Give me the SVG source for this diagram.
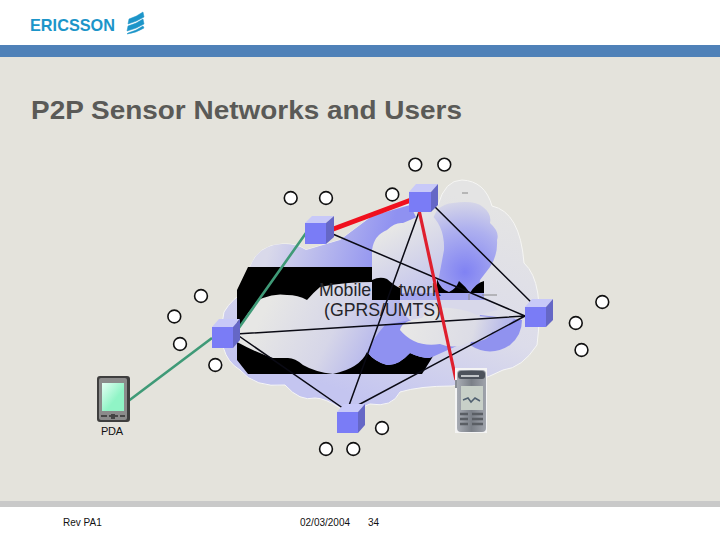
<svg xmlns="http://www.w3.org/2000/svg" width="720" height="540" viewBox="0 0 720 540">
<style>
.c{fill:#fff;stroke:#111;stroke-width:1.6}
.l{stroke:#0a0a14;stroke-width:1.5;fill:none}
.f{fill:#7a7cf6}.t{fill:#c8c9f8}.s{fill:#6567c6}
.a{font-family:"Liberation Sans",Arial,sans-serif}
</style>
<defs>
<linearGradient id="g0" gradientUnits="userSpaceOnUse" x1="470" y1="200" x2="400" y2="410"><stop offset="0" stop-color="#e4e4e4"/><stop offset=".55" stop-color="#dcdcea"/><stop offset="1" stop-color="#c4c5f0"/></linearGradient>
<linearGradient id="g2" gradientUnits="userSpaceOnUse" x1="270" y1="245" x2="380" y2="275"><stop offset="0" stop-color="#d9d9ea"/><stop offset="1" stop-color="#8f91f1"/></linearGradient>
<radialGradient id="g3" gradientUnits="userSpaceOnUse" cx="465" cy="272" r="78"><stop offset="0" stop-color="#8082f3"/><stop offset=".55" stop-color="#aeb0ef"/><stop offset="1" stop-color="#e0e0e6"/></radialGradient>
<linearGradient id="g4" gradientUnits="userSpaceOnUse" x1="270" y1="300" x2="395" y2="365"><stop offset="0" stop-color="#e7e7e5"/><stop offset=".5" stop-color="#d6d6e8"/><stop offset="1" stop-color="#a5a7ef"/></linearGradient>
<linearGradient id="g5" gradientUnits="userSpaceOnUse" x1="405" y1="320" x2="500" y2="345"><stop offset="0" stop-color="#e8e8e6"/><stop offset=".7" stop-color="#dcdce6"/><stop offset="1" stop-color="#b8baea"/></linearGradient>
<linearGradient id="g8" gradientUnits="userSpaceOnUse" x1="385" y1="230" x2="420" y2="290"><stop offset="0" stop-color="#e8e8e6"/><stop offset="1" stop-color="#c6c7ec"/></linearGradient>
<linearGradient id="g6" x1="0" y1="0" x2="1" y2="1"><stop offset="0" stop-color="#e4fff4"/><stop offset=".6" stop-color="#90f4c6"/></linearGradient>
<linearGradient id="g7" x1="0" y1="0" x2="1" y2="0"><stop offset="0" stop-color="#a8acb4"/><stop offset=".5" stop-color="#7b8088"/><stop offset="1" stop-color="#a0a4ac"/></linearGradient>
</defs>
<rect width="720" height="540" fill="#fff"/>
<rect y="45" width="720" height="12" fill="#4f81b8"/>
<rect y="57" width="720" height="444" fill="#e4e3dc"/>
<rect y="501" width="720" height="6" fill="#c9c9c9"/>
<g id="logo">
<text class="a" x="30" y="31" font-size="17" font-weight="bold" fill="#1c95c9" textLength="85" lengthAdjust="spacingAndGlyphs">ERICSSON</text>
<path d="M129 19Q136 17 143 12L144 17Q136 22 128 24ZM128 26Q136 24 143 19L144 24Q136 29 127 31ZM128 33Q136 31 143 26L144 28Q136 33 127 34Z" fill="#1c95c9" stroke="#1c95c9" stroke-width=".5"/>
</g>
<text class="a" x="31" y="119" font-size="26" font-weight="bold" fill="#5a5a57" textLength="431" lengthAdjust="spacingAndGlyphs">P2P Sensor Networks and Users</text>
<g id="cloud">
<path d="M224 312Q232 298 248 290L250 267Q258 245 282 244Q296 243 306 250L340 240L372 216L400 205L438 205Q445 180 462 180Q485 181 492 206Q520 212 524 263Q545 282 537 345Q522 368 503 370Q475 384 452 386Q420 386 400 392Q392 408 370 404Q355 412 340 408Q325 398 315 398Q300 402 285 385Q255 388 240 370Q215 355 224 312Z" fill="url(#g0)" stroke="#f6f6f4" stroke-width="1"/>
<path d="M250 267Q258 245 282 244Q296 243 306 250L340 240L372 216L410 205L420 225L385 285L372 290L250 290Z" fill="url(#g2)"/>
<path d="M437 210Q445 203 453 203Q475 200 483 207Q492 214 490 223Q500 232 497 240Q498 255 490 267L480 280L478 294H438L425 280Q420 240 437 210Z" fill="url(#g3)"/>
<path d="M372 290V250Q374 235 387 230Q395 222 403 223Q415 218 428 212Q445 225 444 250L436 293H400L400 300H372Z" fill="url(#g8)"/>
<path d="M248 267H372V300H400V345H440L422 374H248L237 360V290Z" fill="#000"/>
<path d="M237 335Q243 318 253 307Q257 300 263 298Q275 293 287 295Q298 295 307 300Q314 292 320 287Q345 282 372 282V300H400L430 345L430 358Q420 358 410 353Q398 366 387 365Q375 362 367 352Q360 368 333 374Q315 372 303 365Q295 358 288 358H273Q255 352 237 342Z" fill="url(#g4)"/>
<path d="M367 352Q372 340 385 325L420 318L470 340L430 358Q420 358 410 353Q398 366 387 365Q375 362 367 352Z" fill="#8f91f1"/>
<path d="M400 293H484V300H400Z" fill="#a3a5ee"/>
<path d="M400 300H490L498 310L450 322L410 320L400 310Z" fill="#d8d8ea"/>
<path d="M470 345Q490 358 510 345Q522 335 522 320L480 315Z" fill="#9092ef"/>
<path d="M400 330Q402 320 422 318Q430 306 450 308Q470 310 478 316Q500 318 515 318Q505 330 492 332Q488 342 470 342Q455 350 440 344Q415 348 400 330Z" fill="url(#g5)"/>
<text class="a" text-anchor="middle" font-size="17.7" fill="#242428"><tspan x="380" y="296">Mobile Network</tspan><tspan x="382.5" y="316">(GPRS/UMTS)</tspan></text>
<path d="M372 280Q380 276 387 279Q395 286 400 288V300H372Z" fill="#000"/>
<path d="M437 279V293H484V281Q476 283 470 293Q465 286 459 281Q456 289 449 292Q441 290 437 279Z" fill="#000"/>
<path d="M462 193H468M469 294V300M482 295H497" stroke="#888" stroke-width="1" fill="none"/>
</g>
<g id="connectors">
<path class="l" d="M328 232L525 316M419 212L347 411M430 202L536 307M236 334L525 316M236 334L347 411M525 316L347 411"/>
<path d="M328 231L411 200" stroke="#f0101e" stroke-width="5" fill="none"/>
<path d="M419 210L456 380" stroke="#df1f2e" stroke-width="3.2" fill="none"/>
<path d="M306 233L236 332M212 338L127 402" stroke="#3f9a77" stroke-width="2.6" fill="none"/>
</g>
<g id="node-1"><path class="t" d="M305 223L312 216H334L326 223Z"/><path class="s" d="M326 223L334 216V237L326 244Z"/><rect class="f" x="305" y="223" width="21" height="21"/></g>
<g id="node-2"><path class="t" d="M409 192L416 184H438L431 192Z"/><path class="s" d="M431 192L438 184V205L431 212Z"/><rect class="f" x="409" y="192" width="22" height="20"/></g>
<g id="node-3"><path class="t" d="M525 307L532 299H553L546 307Z"/><path class="s" d="M546 307L553 299V320L546 327Z"/><rect class="f" x="525" y="307" width="21" height="20"/></g>
<g id="node-4"><path class="t" d="M212 327L219 319H240L233 327Z"/><path class="s" d="M233 327L240 319V340L233 348Z"/><rect class="f" x="212" y="327" width="21" height="21"/></g>
<g id="node-5"><path class="t" d="M337 412L344 404H365L358 412Z"/><path class="s" d="M358 412L365 404V425L358 433Z"/><rect class="f" x="337" y="412" width="21" height="21"/></g>
<g id="sensors">
<circle class="c" cx="290.7" cy="198" r="6.4"/><circle class="c" cx="326" cy="198" r="6.4"/><circle class="c" cx="392.3" cy="194.5" r="6.4"/><circle class="c" cx="415.3" cy="164.6" r="6.4"/><circle class="c" cx="444.3" cy="164.6" r="6.4"/>
<circle class="c" cx="201" cy="296" r="6.4"/><circle class="c" cx="174.3" cy="316.5" r="6.4"/><circle class="c" cx="180" cy="344" r="6.4"/><circle class="c" cx="215.3" cy="365" r="6.4"/>
<circle class="c" cx="326" cy="449" r="6.4"/><circle class="c" cx="353.3" cy="449" r="6.4"/><circle class="c" cx="382" cy="428" r="6.4"/>
<circle class="c" cx="602.3" cy="302" r="6.4"/><circle class="c" cx="575.8" cy="323" r="6.4"/><circle class="c" cx="581.5" cy="350" r="6.4"/>
</g>
<g id="pda">
<rect x="97" y="376" width="33" height="46" rx="3" fill="#3e3e3e"/>
<rect x="99" y="378" width="28" height="42" rx="2" fill="#8b8b8b"/>
<rect x="102" y="383" width="22" height="28" fill="url(#g6)"/>
<path d="M101 416H107M109 416H111M115 416H118M120 416H125" stroke="#333" stroke-width="1.5"/>
<rect x="111" y="414" width="4" height="5" fill="#444"/>
<text class="a" x="112" y="435" text-anchor="middle" font-size="11" fill="#111" textLength="22">PDA</text>
</g>
<g id="phone">
<rect x="455" y="368" width="32" height="65" fill="#f4f4f4"/>
<rect x="457" y="370" width="29" height="62" rx="4" fill="url(#g7)"/>
<rect x="458" y="371" width="27" height="8" rx="3" fill="#4c525c"/>
<rect x="461" y="375" width="18" height="2" fill="#c0c4c8"/>
<rect x="461" y="386" width="22" height="24" fill="#c8d0c8"/>
<path d="M463 400L468 398L471 402L475 398L480 401" stroke="#506070" stroke-width="1.5" fill="none"/>
<path d="M460 414H468M472 414H483M460 419H468M472 419H483M460 424H468M472 424H483" stroke="#5a5e64" stroke-width="2.5"/>
<rect x="455" y="380" width="2" height="8" fill="#8a8e96"/>
</g>
<g class="a" font-size="10" fill="#111">
<text x="63" y="526">Rev PA1</text><text x="300" y="526">02/03/2004</text><text x="368" y="526">34</text>
</g>
</svg>
